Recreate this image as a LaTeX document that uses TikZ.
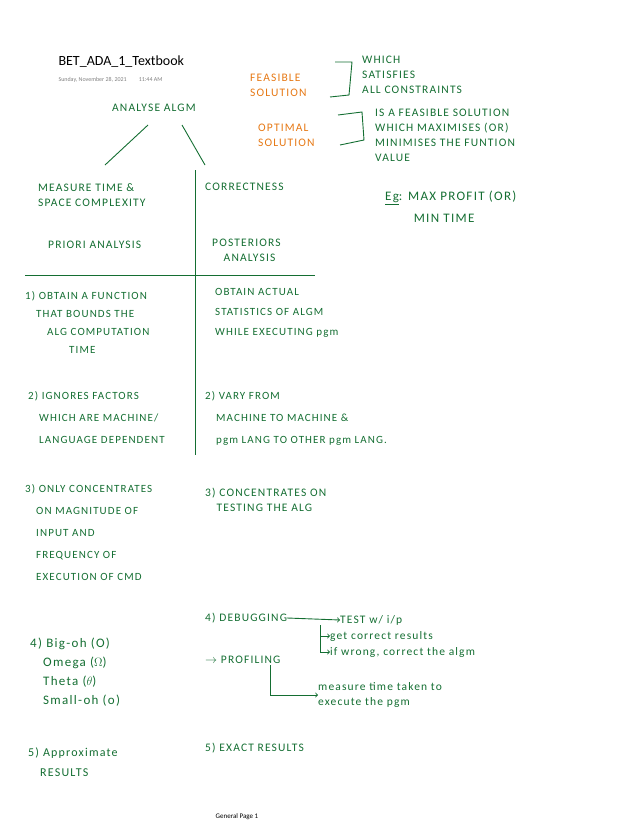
\documentclass[tikz,border=0pt]{standalone}
\usepackage{fontspec}
\setmainfont{Carlito}
\newfontfamily\handf[LetterSpace=10]{Carlito}
\definecolor{ink}{RGB}{20,110,50}
\definecolor{ora}{RGB}{230,120,20}
\tikzset{x=1pt,y=-1pt,
 hw/.style={text=ink,font=\handf\fontsize{11.5}{15}\selectfont,anchor=west,align=left,inner sep=0pt},
 hwo/.style={hw,text=ora},
 pen/.style={draw=ink,line width=0.9pt},
 peno/.style={draw=ora,line width=0.9pt}}
\begin{document}
\begin{tikzpicture}
\useasboundingbox (0,0) rectangle (638,827);
\node[anchor=west,font=\fontsize{14}{16}\selectfont] (title) at (55,62) {BET\_ADA\_1\_Textbook};
\node[anchor=west,font=\fontsize{6}{7}\selectfont,text=gray] (date) at (55,80) {Sunday, November 28, 2021\qquad 11:44 AM};
\node[anchor=center,font=\fontsize{7}{8}\selectfont\rmfamily] (foot) at (237,817) {General Page 1};
% orange
\node[hwo] (fs) at (250,85) {FEASIBLE\\SOLUTION};
\node[hw] (wh) at (362,75) {WHICH\\SATISFIES\\ALL CONSTRAINTS};
\draw[pen] (335,62) -- (352,62) -- (349,95) -- (330,97);
\node[hwo] (os) at (258,135) {OPTIMAL\\SOLUTION};
\draw[pen] (338,115) -- (362,112) -- (364,140) -- (340,145);
\node[hw,align=left] (is) at (375,135) {IS A FEASIBLE SOLUTION\\WHICH MAXIMISES (OR)\\MINIMISES THE FUNTION\\VALUE};
\node[hw,font=\handf\fontsize{13}{22}\selectfont] (eg) at (385,207) {\underline{Eg}: MAX PROFIT (OR)\\\hspace{2.2em}MIN TIME};
% tree
\node[hw] (an) at (112,108) {ANALYSE ALGM};
\draw[pen] (148,125) -- (105,165);
\draw[pen] (182,125) -- (205,165);
\node[hw] (mt) at (38,195) {MEASURE TIME \&\\SPACE COMPLEXITY};
\node[hw] (co) at (205,187) {CORRECTNESS};
\node[hw] (pa) at (48,245) {PRIORI ANALYSIS};
\node[hw] (po) at (212,250) {POSTERIORS\\\quad ANALYSIS};
\coordinate (vt) at (195,170); \coordinate (vb) at (195,455);
\draw[pen] (vt) -- (vb);
\coordinate (hl) at (25,275); \coordinate (hr) at (315,275);
\draw[pen] (hl) -- (hr);
\node[hw,font=\handf\fontsize{11}{18}\selectfont] (l1) at (25,322) {1) OBTAIN A FUNCTION\\\quad THAT BOUNDS THE\\\qquad ALG COMPUTATION\\\qquad\qquad TIME};
\node[hw,font=\handf\fontsize{11}{20}\selectfont] (r1) at (215,313) {OBTAIN ACTUAL\\STATISTICS OF ALGM\\WHILE EXECUTING pgm};
\node[hw,font=\handf\fontsize{11}{22}\selectfont] (l2) at (28,418) {2) IGNORES FACTORS\\\quad WHICH ARE MACHINE/\\\quad LANGUAGE DEPENDENT};
\node[hw,font=\handf\fontsize{11}{22}\selectfont] (r2) at (205,418) {2) VARY FROM\\\quad MACHINE TO MACHINE \&\\\quad pgm LANG TO OTHER pgm LANG.};
\node[hw,font=\handf\fontsize{11}{22}\selectfont] (l3) at (25,533) {3) ONLY CONCENTRATES\\\quad ON MAGNITUDE OF\\\quad INPUT AND\\\quad FREQUENCY OF\\\quad EXECUTION OF CMD};
\node[hw] (r3) at (205,500) {3) CONCENTRATES ON\\\quad TESTING THE ALG};
\node[hw,font=\handf\fontsize{13}{19}\selectfont] (l4) at (30,672) {4) Big-oh (O)\\\quad Omega ($\Omega$)\\\quad Theta ($\theta$)\\\quad Small-oh (o)};
\node[hw] (db) at (205,618) {4) DEBUGGING};
\node[hw] (pr) at (205,660) {$\rightarrow$ PROFILING};
\node[hw] (t1) at (340,620) {TEST w/ i/p};
\node[hw] (t2) at (330,636) {get correct results};
\node[hw] (t3) at (330,652) {if wrong, correct the algm};
\node[hw] (t4) at (318,695) {measure time taken to\\execute the pgm};
\draw[pen,->] (db.east) -- (t1.west);
\draw[pen,->] (320,625) |- (t2.west);
\draw[pen,->] (320,625) |- (t3.west);
\draw[pen,->] (pr.east) ++(-10,5) |- (t4.west);
\node[hw,font=\handf\fontsize{12}{20}\selectfont] (l5) at (28,762) {5) Approximate\\\quad RESULTS};
\node[hw] (r5) at (205,748) {5) EXACT RESULTS};
\end{tikzpicture}
\end{document}
